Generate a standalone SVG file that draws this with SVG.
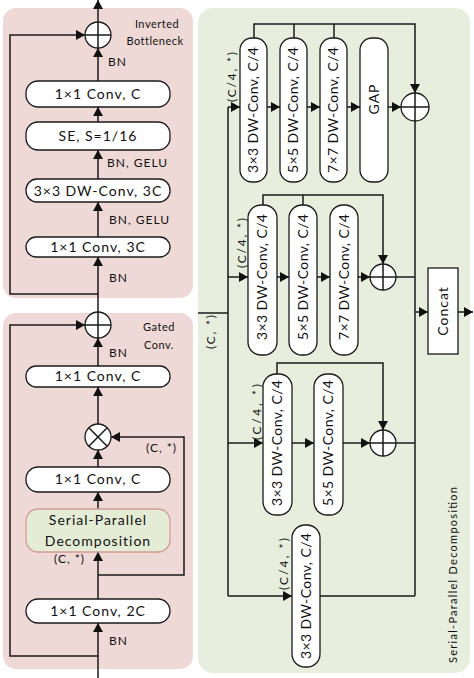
<svg xmlns="http://www.w3.org/2000/svg" width="474" height="678" viewBox="0 0 474 678">
<style>
.pink{fill:#efd9d7;stroke:none}
.green{fill:#e8eedd;stroke:none}
.box{fill:#fff;stroke:#1a1a1a;stroke-width:1.3}
.spd{fill:#e4ecd6;stroke:#d49a98;stroke-width:1.3}
.ln{fill:none;stroke:#1a1a1a;stroke-width:1.5}
.op{fill:#fff;stroke:#1a1a1a;stroke-width:1.3}
.t{font-family:Lato,"Liberation Sans",sans-serif;font-size:14px;fill:#111;letter-spacing:1px}
.s{font-family:Lato,"Liberation Sans",sans-serif;font-size:12px;fill:#111;letter-spacing:1px}
.v{font-family:Lato,"Liberation Sans",sans-serif;font-size:14px;fill:#111}
.l{font-family:Lato,"Liberation Sans",sans-serif;font-size:11px;fill:#111}
.c{font-family:Lato,"Liberation Sans",sans-serif;font-size:12px;fill:#111}
</style>
<defs>
<marker id="ar" markerUnits="userSpaceOnUse" markerWidth="9" markerHeight="10" refX="9" refY="5" orient="auto">
<path d="M0,0 L9,5 L0,10 Z" fill="#111"/>
</marker>
</defs>

<!-- panels -->
<rect id="panel-ib" class="pink" x="3" y="8" width="190" height="290" rx="13"/>
<rect id="panel-gc" class="pink" x="3" y="313" width="190" height="356" rx="13"/>
<rect id="panel-spd" class="green" x="198" y="8" width="272" height="665" rx="15"/>

<g id="connectors">
<!-- left top: inverted bottleneck -->
<line class="ln" x1="98" y1="22" x2="98" y2="0" marker-end="url(#ar)"/>
<polyline class="ln" points="98,294 10,294 10,35 85,35" marker-end="url(#ar)"/>
<line class="ln" x1="98" y1="81" x2="98" y2="48" marker-end="url(#ar)"/>
<line class="ln" x1="98" y1="122" x2="98" y2="107" marker-end="url(#ar)"/>
<line class="ln" x1="98" y1="179" x2="98" y2="150" marker-end="url(#ar)"/>
<line class="ln" x1="98" y1="237" x2="98" y2="202" marker-end="url(#ar)"/>
<line class="ln" x1="98" y1="312" x2="98" y2="257" marker-end="url(#ar)"/>
<!-- left bottom: gated conv -->
<polyline class="ln" points="98,656 10,656 10,325 85,325" marker-end="url(#ar)"/>
<line class="ln" x1="98" y1="366" x2="98" y2="338" marker-end="url(#ar)"/>
<line class="ln" x1="98" y1="424" x2="98" y2="387" marker-end="url(#ar)"/>
<line class="ln" x1="98" y1="467" x2="98" y2="450" marker-end="url(#ar)"/>
<line class="ln" x1="98" y1="509" x2="98" y2="492" marker-end="url(#ar)"/>
<line class="ln" x1="98" y1="599" x2="98" y2="552" marker-end="url(#ar)"/>
<polyline class="ln" points="98,575 184,575 184,437 111,437" marker-end="url(#ar)"/>
<line class="ln" x1="98" y1="678" x2="98" y2="623" marker-end="url(#ar)"/>
<!-- right panel -->
<line class="ln" x1="198" y1="313" x2="228" y2="313"/>
<line class="ln" x1="228" y1="107" x2="228" y2="596"/>
<line class="ln" x1="415" y1="121" x2="415" y2="596"/>
<!-- row 1 -->
<polyline class="ln" points="254,38 254,24 415,24 415,93" marker-end="url(#ar)"/>
<line class="ln" x1="294" y1="24" x2="294" y2="38"/>
<line class="ln" x1="334" y1="24" x2="334" y2="38"/>
<line class="ln" x1="228" y1="107" x2="240" y2="107" marker-end="url(#ar)"/>
<line class="ln" x1="267" y1="107" x2="280" y2="107" marker-end="url(#ar)"/>
<line class="ln" x1="307" y1="107" x2="320" y2="107" marker-end="url(#ar)"/>
<line class="ln" x1="347" y1="107" x2="360" y2="107" marker-end="url(#ar)"/>
<line class="ln" x1="388" y1="107" x2="401" y2="107" marker-end="url(#ar)"/>
<!-- row 2 -->
<polyline class="ln" points="263,205 263,195 383,195 383,264" marker-end="url(#ar)"/>
<line class="ln" x1="303" y1="195" x2="303" y2="205"/>
<line class="ln" x1="228" y1="277" x2="248" y2="277" marker-end="url(#ar)"/>
<line class="ln" x1="277" y1="277" x2="289" y2="277" marker-end="url(#ar)"/>
<line class="ln" x1="317" y1="277" x2="330" y2="277" marker-end="url(#ar)"/>
<line class="ln" x1="358" y1="277" x2="370" y2="277" marker-end="url(#ar)"/>
<line class="ln" x1="396" y1="277" x2="415" y2="277"/>
<!-- row 3 -->
<polyline class="ln" points="277,374 277,363 383,363 383,430" marker-end="url(#ar)"/>
<line class="ln" x1="228" y1="443" x2="263" y2="443" marker-end="url(#ar)"/>
<line class="ln" x1="292" y1="443" x2="314" y2="443" marker-end="url(#ar)"/>
<line class="ln" x1="343" y1="443" x2="370" y2="443" marker-end="url(#ar)"/>
<line class="ln" x1="396" y1="443" x2="415" y2="443"/>
<!-- row 4 -->
<line class="ln" x1="228" y1="596" x2="292" y2="596" marker-end="url(#ar)"/>
<line class="ln" x1="320" y1="596" x2="415" y2="596"/>
<!-- concat -->
<line class="ln" x1="415" y1="312" x2="428" y2="312" marker-end="url(#ar)"/>
<line class="ln" x1="458" y1="312" x2="473" y2="312" marker-end="url(#ar)"/>
</g>

<!-- left top nodes -->
<g id="add-ib"><circle class="op" cx="98" cy="35" r="13"/><path class="ln" d="M85,35 H111 M98,22 V48"/></g>
<g id="conv1x1-c-ib"><rect class="box" x="26" y="81" width="144" height="26" rx="12"/><text class="t" x="98" y="99" text-anchor="middle">1×1 Conv, C</text></g>
<g id="se"><rect class="box" x="26" y="122" width="144" height="28" rx="12"/><text class="t" x="98" y="141" text-anchor="middle">SE, S=1/16</text></g>
<g id="dwconv-3c"><rect class="box" x="26" y="179" width="144" height="23" rx="11"/><text class="t" x="98" y="196" text-anchor="middle">3×3 DW-Conv, 3C</text></g>
<g id="conv1x1-3c"><rect class="box" x="26" y="237" width="144" height="20" rx="10"/><text class="t" x="98" y="252" text-anchor="middle">1×1 Conv, 3C</text></g>
<g id="labels-ib">
<text class="l" x="157" y="28" text-anchor="middle" letter-spacing="0.5">Inverted</text>
<text class="l" x="155" y="45" text-anchor="middle" letter-spacing="0.5">Bottleneck</text>
<text class="s" x="108" y="66">BN</text>
<text class="s" x="107" y="167">BN, GELU</text>
<text class="s" x="109" y="224">BN, GELU</text>
<text class="s" x="109" y="282">BN</text>
</g>

<!-- left bottom nodes -->
<g id="add-gc"><circle class="op" cx="98" cy="325" r="13"/><path class="ln" d="M85,325 H111 M98,312 V338"/></g>
<g id="conv1x1-c-a"><rect class="box" x="26" y="366" width="144" height="21" rx="10"/><text class="t" x="98" y="381" text-anchor="middle">1×1 Conv, C</text></g>
<g id="mul"><circle class="op" cx="98" cy="437" r="13"/><path class="ln" d="M88.8,427.8 L107.2,446.2 M107.2,427.8 L88.8,446.2"/></g>
<g id="conv1x1-c-b"><rect class="box" x="26" y="467" width="144" height="25" rx="12"/><text class="t" x="98" y="484" text-anchor="middle">1×1 Conv, C</text></g>
<g id="spd-node"><rect class="spd" x="26" y="509" width="144" height="43" rx="12"/><text class="t" x="98" y="525" text-anchor="middle">Serial-Parallel</text><text class="t" x="98" y="546" text-anchor="middle">Decomposition</text></g>
<g id="conv1x1-2c"><rect class="box" x="26" y="599" width="144" height="24" rx="12"/><text class="t" x="98" y="616" text-anchor="middle">1×1 Conv, 2C</text></g>
<g id="labels-gc">
<text class="l" x="159" y="331" text-anchor="middle" letter-spacing="0.5">Gated</text>
<text class="l" x="159" y="349" text-anchor="middle" letter-spacing="0.5">Conv.</text>
<text class="s" x="109" y="357">BN</text>
<text class="s" x="146" y="452">(C, *)</text>
<text class="s" x="54" y="563">(C, *)</text>
<text class="s" x="109" y="645">BN</text>
</g>

<!-- right panel nodes -->
<g id="r1-b1"><rect class="box" x="240" y="38" width="27" height="144" rx="12"/><text class="v" transform="translate(253.5,110) rotate(-90)" text-anchor="middle" dy="0.35em" textLength="126" lengthAdjust="spacing">3×3 DW-Conv, C/4</text></g>
<g id="r1-b2"><rect class="box" x="280" y="38" width="27" height="144" rx="12"/><text class="v" transform="translate(293.5,110) rotate(-90)" text-anchor="middle" dy="0.35em" textLength="126" lengthAdjust="spacing">5×5 DW-Conv, C/4</text></g>
<g id="r1-b3"><rect class="box" x="320" y="38" width="27" height="144" rx="12"/><text class="v" transform="translate(333.5,110) rotate(-90)" text-anchor="middle" dy="0.35em" textLength="126" lengthAdjust="spacing">7×7 DW-Conv, C/4</text></g>
<g id="r1-gap"><rect class="box" x="360" y="38" width="28" height="144" rx="12"/><text class="v" transform="translate(374,99) rotate(-90)" text-anchor="middle" dy="0.35em" letter-spacing="1">GAP</text></g>
<g id="r1-add"><circle class="op" cx="415" cy="107" r="14"/><path class="ln" d="M401,107 H429 M415,93 V121"/></g>

<g id="r2-b1"><rect class="box" x="248" y="205" width="29" height="150" rx="13"/><text class="v" transform="translate(262.5,277) rotate(-90)" text-anchor="middle" dy="0.35em" textLength="126" lengthAdjust="spacing">3×3 DW-Conv, C/4</text></g>
<g id="r2-b2"><rect class="box" x="289" y="205" width="28" height="150" rx="13"/><text class="v" transform="translate(303,277) rotate(-90)" text-anchor="middle" dy="0.35em" textLength="126" lengthAdjust="spacing">5×5 DW-Conv, C/4</text></g>
<g id="r2-b3"><rect class="box" x="330" y="205" width="28" height="150" rx="13"/><text class="v" transform="translate(344,277) rotate(-90)" text-anchor="middle" dy="0.35em" textLength="126" lengthAdjust="spacing">7×7 DW-Conv, C/4</text></g>
<g id="r2-add"><circle class="op" cx="383" cy="277" r="13"/><path class="ln" d="M370,277 H396 M383,264 V290"/></g>

<g id="r3-b1"><rect class="box" x="263" y="374" width="29" height="141" rx="13"/><text class="v" transform="translate(277.5,443) rotate(-90)" text-anchor="middle" dy="0.35em" textLength="126" lengthAdjust="spacing">3×3 DW-Conv, C/4</text></g>
<g id="r3-b2"><rect class="box" x="314" y="374" width="29" height="141" rx="13"/><text class="v" transform="translate(328.5,443) rotate(-90)" text-anchor="middle" dy="0.35em" textLength="126" lengthAdjust="spacing">5×5 DW-Conv, C/4</text></g>
<g id="r3-add"><circle class="op" cx="383" cy="443" r="13"/><path class="ln" d="M370,443 H396 M383,430 V456"/></g>

<g id="r4-b1"><rect class="box" x="292" y="525" width="28" height="142" rx="13"/><text class="v" transform="translate(306,596) rotate(-90)" text-anchor="middle" dy="0.35em" textLength="126" lengthAdjust="spacing">3×3 DW-Conv, C/4</text></g>

<g id="concat"><rect class="box" x="428" y="268" width="30" height="86" rx="0"/><text class="v" transform="translate(443,311) rotate(-90)" text-anchor="middle" dy="0.35em" letter-spacing="1">Concat</text></g>

<g id="labels-spd">
<text class="c" transform="translate(232,77) rotate(-90)" text-anchor="middle" dy="0.35em" textLength="50" lengthAdjust="spacing">(C/4, *)</text>
<text class="c" transform="translate(242,243) rotate(-90)" text-anchor="middle" dy="0.35em" textLength="50" lengthAdjust="spacing">(C/4, *)</text>
<text class="c" transform="translate(257,412) rotate(-90)" text-anchor="middle" dy="0.35em" textLength="56" lengthAdjust="spacing">(C/4, *)</text>
<text class="c" transform="translate(284,564) rotate(-90)" text-anchor="middle" dy="0.35em" textLength="52" lengthAdjust="spacing">(C/4, *)</text>
<text class="c" transform="translate(211,332) rotate(-90)" text-anchor="middle" dy="0.35em" textLength="34" lengthAdjust="spacing">(C, *)</text>
<text class="l" transform="translate(453,575) rotate(-90)" text-anchor="middle" dy="0.35em" textLength="176" lengthAdjust="spacing">Serial-Parallel Decomposition</text>
</g>
</svg>
